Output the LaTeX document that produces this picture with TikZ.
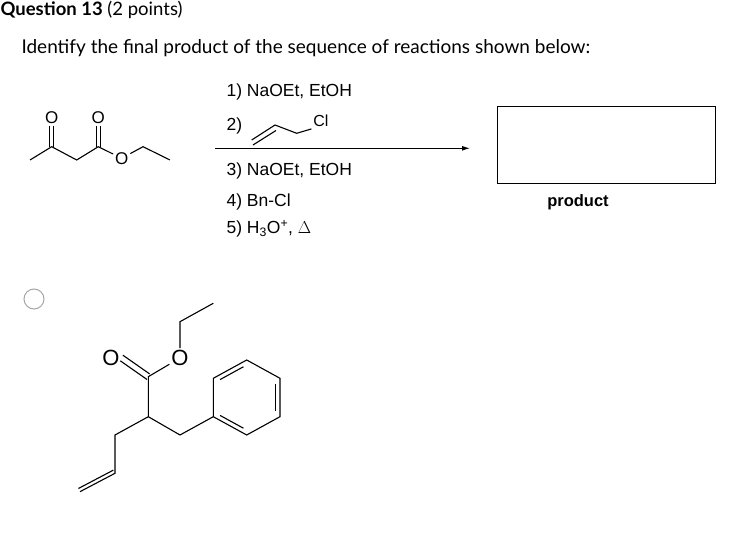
\documentclass[tikz,border=0pt]{standalone}
\usepackage{fontspec}
\usetikzlibrary{arrows.meta,calc}
\setmainfont{Lato}
\newfontfamily\arial{Liberation Sans}
\begin{document}
\begin{tikzpicture}[x=1pt,y=-1pt,line width=1.1pt,
  atom/.style={font=\arial\fontsize{17}{17}\selectfont,inner sep=1.5pt},
  reag/.style={font=\arial\fontsize{17.5}{20}\selectfont,anchor=west,inner sep=0pt}]
\useasboundingbox (0,0) rectangle (748,534);
\node[anchor=west,font=\fontsize{18.5}{20}\selectfont,inner sep=0pt] (title) at (0,10) {\textbf{Question 13} (2 points)};
\node[anchor=west,font=\fontsize{19}{22}\selectfont,inner sep=0pt] (q) at (21,48) {Identify the final product of the sequence of reactions shown below:};
% starting material
\coordinate (a1) at (30,160); \coordinate (a2) at (51.7,146.7); \coordinate (a3) at (76.7,160);
\coordinate (a4) at (98.3,146.7); \node[atom] (ao2) at (121.7,158.3) {O};
\coordinate (a6) at (143,146.7); \coordinate (a7) at (170,160);
\node[atom] (ok) at (51.7,118) {O};
\node[atom] (oe) at (98.3,118) {O};
\draw (a1)--(a2)--(a3)--(a4)--(ao2)--(a6)--(a7);
\draw ([xshift=-2pt]a2)--([xshift=-2pt]ok.south) ([xshift=2pt]a2)--([xshift=2pt]ok.south);
\draw ([xshift=-2pt]a4)--([xshift=-2pt]oe.south) ([xshift=2pt]a4)--([xshift=2pt]oe.south);
% reagents
\node[reag] (r1) at (226,92) {1) NaOEt, EtOH};
\node[reag] (r2) at (226,126) {2)};
\coordinate (b1) at (251.7,140); \coordinate (b2) at (275,125); \coordinate (b3) at (296.7,133.3);
\node[atom,font=\arial\fontsize{16}{16}\selectfont] (cl) at (321,121) {Cl};
\draw (b1)--(b2)--(b3)--(cl.south west);
\draw (253,145)--(276,130.5);
\coordinate (arS) at (215,148.3); \coordinate (arE) at (470,148.3);
\draw[-{Latex[length=8pt,width=5pt]}] (arS)--(arE);
\node[reag] (r3) at (226,171) {3) NaOEt, EtOH};
\node[reag] (r4) at (226,202) {4) Bn-Cl};
\node[reag] (r5) at (226,229) {5) H\textsubscript{3}O\textsuperscript{+}, $\Delta$};
\node[draw,line width=1pt,minimum width=218pt,minimum height=77pt,anchor=north west] (box) at (497,106) {};
\node[font=\arial\bfseries\fontsize{16.5}{16}\selectfont] (prod) at (578,202) {product};
% radio
\node[draw=gray!70,line width=1pt,circle,minimum size=20pt,inner sep=0pt] (radio) at (34,299) {};
% product structure
\coordinate (p1) at (213.3,303.3); \coordinate (p2) at (180,321.7);
\node[atom,font=\arial\fontsize{22}{22}\selectfont] (po) at (180,358) {O};
\node[atom,font=\arial\fontsize{22}{22}\selectfont] (pod) at (111,358) {O};
\coordinate (pc) at (148.3,376.7); \coordinate (pa) at (148.3,416.7);
\coordinate (q1) at (115,435); \coordinate (q2) at (115,473.3); \coordinate (q3) at (80,491.7);
\coordinate (bz) at (180,435);
\coordinate (r1c) at (213.3,416.7); \coordinate (r2c) at (213.3,378.3); \coordinate (r3c) at (246.7,360);
\coordinate (r4c) at (280,378.3); \coordinate (r5c) at (280,416.7); \coordinate (r6c) at (246.7,435);
\draw (p1)--(p2)--(po)--(pc)--(pa)--(q1)--(q2)--(q3);
\draw ($(q2)+(-1.6,-3.2)$)--($(q3)+(-1.6,-3.2)$);
\draw (pa)--(bz)--(r1c);
\draw (r1c)--(r2c)--(r3c)--(r4c)--(r5c)--(r6c)--cycle;
\draw ($(pc)+(1.3,-2.8)$)--($(pod.east)+(1.3,-2.8)$);
\draw ($(pc)+(-1.3,2.8)$)--($(pod.east)+(-1.3,2.8)$);
\draw ($(r2c)!0.15!(r3c)+(1.8,4)$)--($(r2c)!0.85!(r3c)+(1.8,4)$);
\draw ($(r4c)!0.15!(r5c)+(-4.5,0)$)--($(r4c)!0.85!(r5c)+(-4.5,0)$);
\draw ($(r6c)!0.15!(r1c)+(1.8,-4)$)--($(r6c)!0.85!(r1c)+(1.8,-4)$);
\end{tikzpicture}
\end{document}
